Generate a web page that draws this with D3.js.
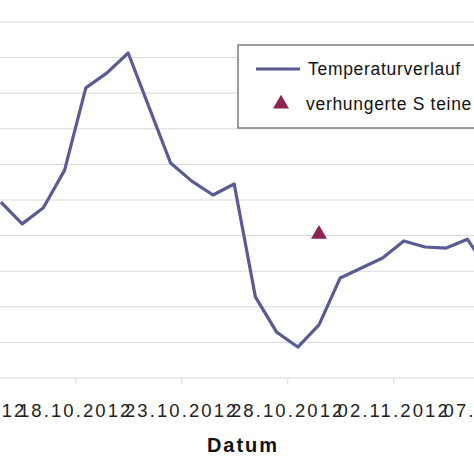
<!DOCTYPE html>
<html><head><meta charset="utf-8">
<script src="https://cdn.jsdelivr.net/npm/d3@7"></script>
<style>body{margin:0;background:#fff}svg{display:block}</style>
</head><body>
<script>
const dayIndex = [0,1,2,3,4,5,6,7,8,9,10,11,12,13,14,15,16,17,18,19,20,21,22,23];
const temperature = [4.94,4.33,4.78,5.84,8.15,8.57,9.13,7.58,6.04,5.53,5.14,5.45,2.28,1.29,0.87,1.49,2.81,3.09,3.37,3.85,3.68,3.65,3.90,3.0];
const markerDay = [15];
const markerValue = [4.04];
const tickPositions = [-1.5,3.5,8.5,13.5,18.5,23.5];
const tickLabels = ["13.10.2012","18.10.2012","23.10.2012","28.10.2012","02.11.2012","07.11.2012"];
const gridValues = [1,2,3,4,5,6,7,8,9,10];
const seriesNames = ["Temperaturverlauf","verhungerte S teine"];

const W=474,H=474;
const svg=d3.select("body").append("svg").attr("width",W).attr("height",H);
const x=d3.scaleLinear().domain([0,1]).range([1,22.2]);
const y=d3.scaleLinear().domain([0,1]).range([378,342.4]);
const font="'Liberation Sans', 'Open Sans', sans-serif";

svg.append("g").selectAll("line").data(gridValues).join("line")
  .attr("x1",0).attr("x2",W).attr("y1",d=>y(d)).attr("y2",d=>y(d))
  .attr("stroke","#d9d9d9").attr("stroke-width",1);

const ax=svg.append("g").attr("transform","translate(0,378)")
  .call(d3.axisBottom(x).tickValues(tickPositions).tickSize(6).tickFormat((d,i)=>tickLabels[i]));
ax.select(".domain").attr("d","M0,0H"+W).attr("stroke","#d9d9d9");
ax.selectAll(".tick line").attr("stroke","#d9d9d9");
ax.selectAll(".tick text").attr("y",26).attr("font-family",font).attr("font-size",18.5)
  .attr("letter-spacing","2.1px").attr("fill","#222");

svg.append("text").attr("x",243).attr("y",452).attr("text-anchor","middle")
  .attr("font-family",font).attr("font-weight","bold").attr("font-size",20)
  .attr("letter-spacing","2px").attr("fill","#111").text("Datum");

const line=d3.line().x((d,i)=>x(dayIndex[i])).y(d=>y(d));
svg.append("path").datum(temperature).attr("d",line).attr("fill","none")
  .attr("stroke","#5a5b92").attr("stroke-width",3.2).attr("stroke-linejoin","round");

const tri=d3.symbol().type(d3.symbolTriangle).size(110);
svg.append("g").selectAll("path").data(markerDay).join("path")
  .attr("d",tri).attr("transform",(d,i)=>`translate(${x(d)},${y(markerValue[i])})`)
  .attr("fill","#8b2455");

const lg=svg.append("g");
lg.append("rect").attr("x",238).attr("y",45).attr("width",260).attr("height",83)
  .attr("fill","#fff").attr("stroke","#7f7f7f").attr("stroke-width",1.5);
lg.append("line").attr("x1",256).attr("x2",300).attr("y1",69).attr("y2",69)
  .attr("stroke","#5a5b92").attr("stroke-width",3.2);
lg.append("path").attr("d",tri).attr("transform","translate(281,104)").attr("fill","#8b2455");
lg.selectAll("text").data(seriesNames).join("text")
  .attr("x",(d,i)=>i?306:308).attr("y",(d,i)=>i?110:75)
  .attr("font-family",font).attr("font-size",17.5).attr("letter-spacing","0.7px").attr("fill","#111").text(d=>d);
</script>
</body></html>
